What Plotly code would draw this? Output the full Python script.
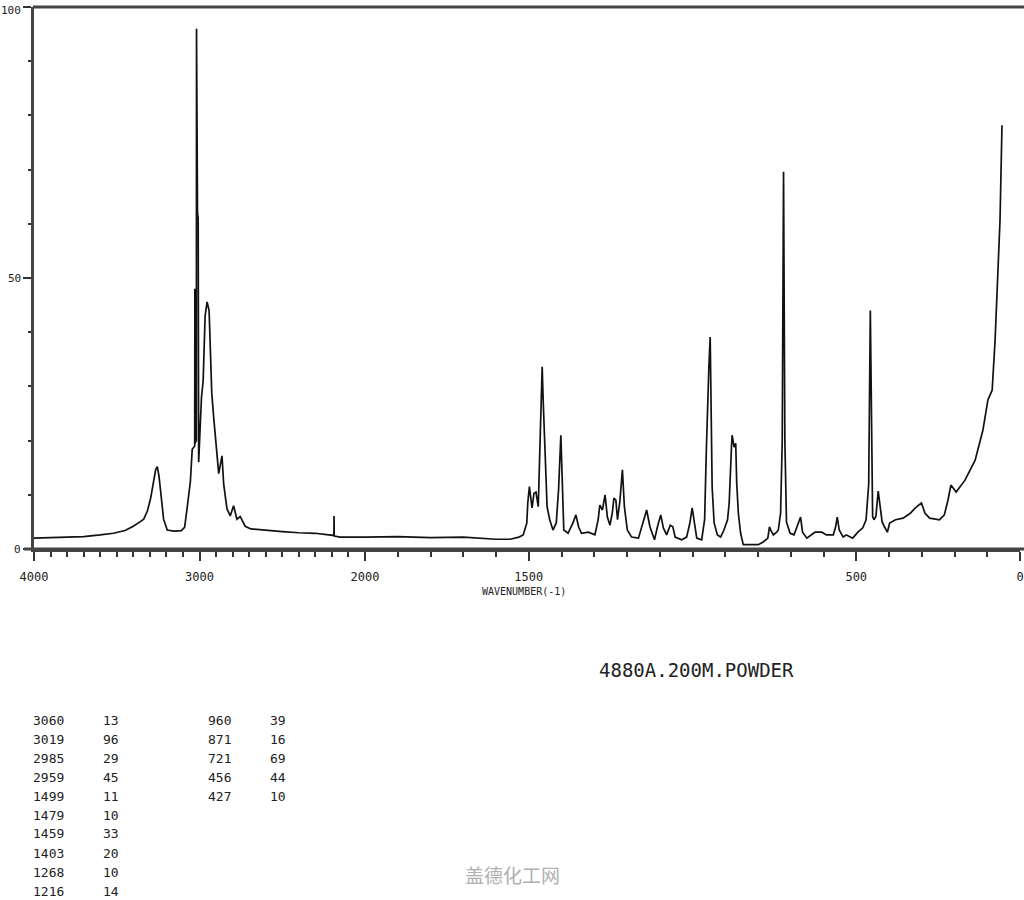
import plotly.graph_objects as go

# ---- Spectrum data (wavenumber cm-1, relative intensity) ----
wavenumber = [
    4000, 3900, 3800, 3700, 3600, 3520, 3450, 3400, 3360, 3337, 3315, 3295, 3280, 3265, 3255,
    3245, 3235, 3217, 3195, 3155, 3110, 3090, 3075, 3064, 3055, 3044, 3032, 3029, 3028, 3027,
    3021, 3019, 3018, 3016, 3012, 3008, 3005, 2998, 2988, 2978, 2966, 2954, 2942, 2934, 2926,
    2914, 2904, 2894, 2884, 2864, 2854, 2834, 2814, 2794, 2774, 2754, 2724, 2690, 2600, 2500,
    2400, 2300, 2220, 2195, 2188, 2187, 2186, 2150, 2100, 2000,
    1900, 1800, 1700, 1600, 1557, 1530, 1517, 1506, 1503, 1498, 1490, 1484, 1478, 1471, 1464,
    1459, 1456, 1451, 1444, 1436, 1426, 1416, 1409, 1402, 1398, 1393, 1380, 1365, 1356, 1348,
    1339, 1318, 1298, 1288, 1283, 1275, 1267, 1260, 1252, 1245, 1240, 1234, 1229, 1222, 1214,
    1208, 1199, 1186, 1165, 1152, 1140, 1130, 1116, 1107, 1097, 1089, 1079, 1068, 1060, 1053,
    1033, 1018, 1008, 1001, 995, 987, 972, 963, 958, 954, 950, 946, 943, 940, 934,
    924, 914, 904, 893, 888, 881, 879, 873, 868, 865, 860, 853, 845, 799, 784,
    770, 765, 761, 753, 743, 738, 731, 726, 722, 720, 718, 713, 702, 690, 680,
    670, 664, 651, 626, 605, 591, 570, 563, 558, 552, 540, 530, 511, 495, 480,
    470, 462, 457, 453, 450, 446, 440, 433, 427, 421, 414, 405, 398, 380, 357,
    335, 321, 301, 290, 276, 246, 231, 220, 211, 195, 168, 137, 113, 98, 85,
    76, 67, 61, 55,
]
intensity = [
    2.0, 2.1, 2.2, 2.3, 2.6, 2.9, 3.4, 4.2, 5.0, 5.5, 7.0, 9.4, 12.0, 14.6, 15.2,
    13.5, 10.7, 5.5, 3.5, 3.3, 3.4, 4.0, 7.5, 11.0, 12.5, 18.4, 19.0, 19.0, 48.0, 19.5,
    20.0, 20.0, 96.0, 62.0, 62.0, 61.0, 16.0, 21.0, 28.0, 31.0, 43.0, 45.6, 44.0, 36.5, 28.8,
    24.2, 21.0, 17.2, 13.9, 17.2, 12.0, 7.4, 6.1, 8.0, 5.5, 6.0, 4.2, 3.7, 3.4, 3.2,
    3.0, 2.9, 2.6, 2.5, 2.5, 6.1, 2.4, 2.2, 2.2, 2.2,
    2.3, 2.1, 2.2, 1.8, 1.8, 2.2, 2.6, 4.8, 8.5, 11.5, 7.6, 10.3, 10.5, 7.8, 21.4,
    33.6, 27.5, 17.7, 7.8, 5.4, 3.5, 4.8, 10.9, 21.0, 12.7, 3.5, 2.9, 4.8, 6.3, 4.1,
    2.9, 3.1, 2.6, 5.4, 8.1, 7.2, 10.0, 5.9, 4.4, 6.6, 9.4, 9.0, 5.4, 8.7, 14.6,
    7.8, 3.5, 2.2, 2.0, 4.8, 7.2, 4.1, 1.7, 4.1, 6.3, 3.9, 2.6, 4.4, 4.1, 2.2,
    1.7, 2.2, 4.8, 7.6, 4.8, 2.0, 1.7, 5.4, 17.7, 27.0, 33.6, 39.1, 23.8, 11.4, 4.8,
    2.6, 2.2, 3.5, 5.4, 8.5, 18.8, 21.0, 18.8, 19.5, 12.2, 6.6, 2.9, 0.8, 0.8, 1.3,
    2.0, 4.1, 3.5, 2.6, 3.1, 3.5, 6.6, 20.0, 69.6, 40.0, 20.0, 5.0, 2.9, 2.6, 4.1,
    5.9, 3.1, 2.0, 3.1, 3.1, 2.6, 2.6, 4.1, 5.9, 3.5, 2.2, 2.6, 2.0, 3.1, 3.9,
    5.4, 12.0, 44.0, 20.0, 6.0, 5.4, 6.0, 10.7, 8.0, 5.0, 4.1, 3.1, 4.8, 5.4, 5.7,
    6.6, 7.5, 8.5, 6.6, 5.7, 5.4, 6.3, 9.0, 11.8, 10.5, 12.7, 16.4, 22.0, 27.5, 29.3,
    38.6, 51.5, 60.7, 78.2,
]

# ---- Axis tick labels ----
hi_tickvals = [4000, 3000]
hi_ticktext = ["4000", "3000"]
lo_tickvals = [2000, 1500, 500, 0]
lo_ticktext = ["2000", "1500", "500", "0"]
y_tickvals = [0, 50, 100]
y_ticktext = ["0", "50", "100"]

# ---- Peak table ----
peak_wn_1 = ["3060", "3019", "2985", "2959", "1499", "1479", "1459", "1403", "1268", "1216"]
peak_int_1 = ["13", "96", "29", "45", "11", "10", "33", "20", "10", "14"]
peak_wn_2 = ["960", "871", "721", "456", "427"]
peak_int_2 = ["39", "16", "69", "44", "10"]

x_title = "WAVENUMBER(-1)"
sample_label = "4880A.200M.POWDER"
watermark = "盖德化工网"

# ---- layout geometry (pixels) ----
W, H = 1024, 900
L, R, T, B = 34, 4, 7, 351
plot_w = W - L - R
plot_h = H - T - B
split = 331 / plot_w   # domain fraction where 2000 cm-1 sits


def px(x):
    return (x - L) / plot_w


def py(y):
    return (H - B - y) / plot_h


hi_x = [w for w in wavenumber if w >= 2000]
hi_y = [i for w, i in zip(wavenumber, intensity) if w >= 2000]
lo_x = [w for w in wavenumber if w <= 2000]
lo_y = [i for w, i in zip(wavenumber, intensity) if w <= 2000]

line_style = dict(color="#111111", width=1.7)
fig = go.Figure()
fig.add_trace(go.Scatter(x=hi_x, y=hi_y, mode="lines", line=line_style,
                         xaxis="x", yaxis="y", showlegend=False))
fig.add_trace(go.Scatter(x=lo_x, y=lo_y, mode="lines", line=line_style,
                         xaxis="x2", yaxis="y", showlegend=False))

tick_font = dict(family="DejaVu Sans Mono", size=12, color="#222222")
ylab_font = dict(family="DejaVu Sans Mono", size=11, color="#222222")
axis_col = "#444444"

common_x = dict(
    showgrid=False, zeroline=False, showline=True, linecolor=axis_col, linewidth=3,
    ticks="outside", ticklen=9, tickwidth=2, tickcolor="#333333",
    tickfont=tick_font, ticklabelstandoff=6, tickmode="array", automargin=False,
    minor=dict(dtick=100, tick0=0, ticks="outside", ticklen=5, tickwidth=1.5,
               tickcolor="#333333", showgrid=False),
)

fig.update_layout(
    width=W, height=H,
    margin=dict(l=L, r=R, t=T, b=B, autoexpand=False),
    paper_bgcolor="white", plot_bgcolor="white",
    xaxis=dict(domain=[0, split], range=[4000, 2000], anchor="y",
               tickvals=hi_tickvals, ticktext=hi_ticktext, **common_x),
    xaxis2=dict(domain=[split, 1], range=[2000, 0], anchor="y",
                tickvals=lo_tickvals, ticktext=lo_ticktext, **common_x),
    yaxis=dict(domain=[0, 1], range=[0, 100], anchor="x", automargin=False,
               showgrid=False, zeroline=False, showline=True, linecolor=axis_col,
               linewidth=3, ticks="outside", ticklen=8, tickwidth=2,
               tickcolor="#333333", tickvals=y_tickvals, showticklabels=False,
               minor=dict(dtick=10, tick0=0, ticks="outside", ticklen=3,
                          tickwidth=2, tickcolor="#333333", showgrid=False)),
)

# top border line and axis extensions
fig.add_shape(type="line", xref="paper", yref="paper", x0=px(L - 1), x1=px(W),
              y0=1, y1=1, line=dict(color=axis_col, width=3))
fig.add_shape(type="line", xref="paper", yref="paper", x0=px(24), x1=px(W),
              y0=0, y1=0, line=dict(color=axis_col, width=3))


def note(text, x, y, font, xanchor="center", yanchor="middle"):
    return dict(text=text, x=px(x), y=py(y), xref="paper", yref="paper",
                xanchor=xanchor, yanchor=yanchor, showarrow=False, font=font)


annotations = []
# y tick labels placed at the y-axis values (top one kept inside the page)
for val, lab in zip(y_tickvals, y_ticktext):
    top = val == y_tickvals[-1]
    annotations.append(dict(text=lab, x=px(23), y=val, xref="paper", yref="y",
                            xanchor="right", yanchor="top" if top else "middle",
                            yshift=5 if top else 0,
                            showarrow=False, font=ylab_font))
annotations.append(note(x_title, 524, 591,
                        dict(family="DejaVu Sans Mono", size=10, color="#222222")))
annotations.append(note(sample_label, 696, 670,
                        dict(family="DejaVu Sans Mono", size=19, color="#222222")))
row0, step = 720, 19.0
tfont = dict(family="DejaVu Sans Mono", size=13, color="#222222")
for i, (wn, it) in enumerate(zip(peak_wn_1, peak_int_1)):
    yy = row0 + i * step
    annotations.append(note(wn, 66, yy, tfont, "right"))
    annotations.append(note(it, 121, yy, tfont, "right"))
for i, (wn, it) in enumerate(zip(peak_wn_2, peak_int_2)):
    yy = row0 + i * step
    annotations.append(note(wn, 233, yy, tfont, "right"))
    annotations.append(note(it, 288, yy, tfont, "right"))
annotations.append(note(watermark, 512, 874,
                        dict(family="Noto Sans CJK SC", size=19, color="#b0b0b0")))
fig.update_layout(annotations=annotations)

fig.write_html("out.html", config={"displayModeBar": False},
               post_script="document.body.style.margin='0';")
